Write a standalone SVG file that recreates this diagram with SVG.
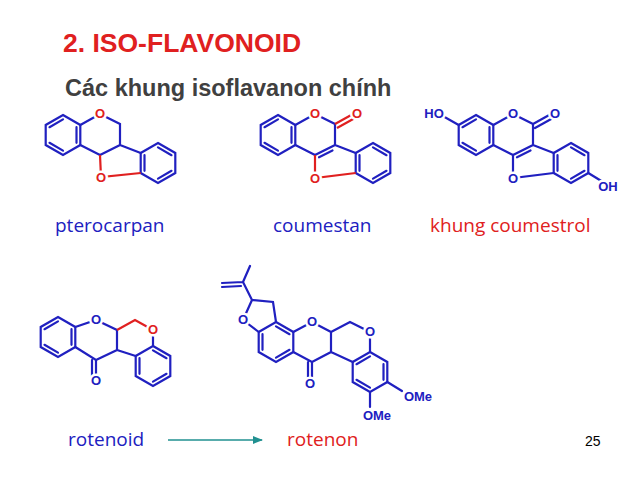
<svg xmlns="http://www.w3.org/2000/svg" width="638" height="478" viewBox="0 0 638 478">
<style>
.b{stroke:#2020c0;stroke-width:2.2;fill:none;stroke-linecap:round}
.r{stroke:#e02020;stroke-width:2.2;fill:none}
.at{font-family:"Liberation Sans",Arial,sans-serif;font-weight:bold;font-size:13px;stroke:#fff;stroke-width:5;paint-order:stroke;text-anchor:middle}
.ro{fill:#e02020}.bo{fill:#2020c0}
.lb{font-family:"Open Sans",sans-serif;font-size:19px}
</style>
<defs>
<g id="bz"><polygon class="b" points="0,-20 17.3,-10 17.3,10 0,20 -17.3,10 -17.3,-10"/><path class="b" d="M-13.5,-7.8L0,-15.6M13.5,-7.8L13.5,7.8M0,15.6L-13.5,7.8"/></g>
<g id="bz2"><polygon class="b" points="0,-20 17.3,-10 17.3,10 0,20 -17.3,10 -17.3,-10"/><path class="b" d="M0,-15.6L13.5,-7.8M13.5,7.8L0,15.6M-13.5,7.8L-13.5,-7.8"/></g>
<marker id="ar" markerWidth="10" markerHeight="8" refX="9" refY="4" orient="auto" markerUnits="userSpaceOnUse"><path d="M0,0L10,4L0,8z" fill="#209090"/></marker>
</defs>
<text x="63" y="52" font-family="Liberation Sans,Arial,sans-serif" font-weight="bold" font-size="26.5" fill="#e02020">2. ISO-FLAVONOID</text>
<text x="65" y="96" font-family="Liberation Sans,Arial,sans-serif" font-weight="bold" font-size="23.5" fill="#404040">Các khung isoflavanon chính</text>
<g id="pterocarpan">
<use href="#bz" x="63" y="135"/><use href="#bz2" x="158" y="163"/>
<path class="b" d="M80.3,125L100,114L120,124L120,145L100,155L80.3,145M120,145L140.7,153"/>
<path class="r" d="M100,155L101,177L140.7,173"/>
<text class="at ro" x="100" y="118">O</text><text class="at ro" x="101" y="182">O</text>
</g>
<g id="coumestan" transform="translate(215,0)">
<use href="#bz" x="63" y="135"/><use href="#bz2" x="158" y="163"/>
<path class="b" d="M80.3,125L100,114L120,124L120,145L100,155L80.3,145M120,145L140.7,153M117.5,150.5L104,157.3"/>
<path class="r" d="M120,124L138,114M122,128L140,118M100,155L100,178L140.7,173"/>
<text class="at ro" x="100" y="118">O</text><text class="at ro" x="142" y="118">O</text><text class="at ro" x="100" y="183">O</text>
</g>
<g id="coumestrol" transform="translate(413,0)">
<use href="#bz" x="63" y="135"/><use href="#bz2" x="158" y="163"/>
<path class="b" d="M80.3,125L100,114L120,124L120,145L100,155L80.3,145M120,145L140.7,153M117.5,150.5L104,157.3M120,124L138,114M122,128L140,118M100,155L100,178L140.7,173M45.7,125L28,115M175.3,173L190,182"/>
<text class="at bo" x="100" y="118">O</text><text class="at bo" x="142" y="118">O</text><text class="at bo" x="100" y="183">O</text>
<text class="at bo" x="21" y="118">HO</text><text class="at bo" x="195" y="191">OH</text>
</g>
<g id="rotenoid">
<use href="#bz" x="58" y="337"/><use href="#bz2" x="153" y="366"/>
<path class="b" d="M75.3,327L96,320L117,330L117,350L96,360L75.3,347M96,360L96,378M92,360L92,378M117,350L135.7,356M153,330L153,346"/>
<path class="r" d="M117,330L135,320L153,330"/>
<text class="at bo" x="96" y="324">O</text><text class="at ro" x="153" y="334">O</text><text class="at bo" x="96" y="385">O</text>
</g>
<g id="rotenon">
<use href="#bz2" x="276" y="342"/><use href="#bz" x="370" y="372"/>
<path class="b" d="M258.7,332L243,320L252,300L273,302L276,322M252,300L243,282L250,266M243,282L222,283M241,286L222,287M293.3,332L312,322L331,332L331,352L312,362L293.3,352M312,362L312,380M308,362L308,380M331,332L350,322L370,332L370,352M331,352L352.7,362M387.3,382L402,391M370,392L370,407"/>
<text class="at bo" x="243" y="324">O</text><text class="at bo" x="312" y="326">O</text><text class="at bo" x="370" y="336">O</text><text class="at bo" x="310" y="388">O</text>
<text class="at bo" x="418" y="401">OMe</text><text class="at bo" x="377" y="420">OMe</text>
</g>
<text class="lb" x="55" y="232" fill="#2020c0">pterocarpan</text>
<text class="lb" x="273" y="232" fill="#2020c0">coumestan</text>
<text class="lb" x="430" y="232" fill="#e02020">khung coumestrol</text>
<text class="lb" x="68" y="446" fill="#2020c0">rotenoid</text>
<text class="lb" x="287" y="446" fill="#e02020">rotenon</text>
<g id="connectors"><path d="M168,440L262,440" stroke="#209090" stroke-width="1.5" marker-end="url(#ar)"/></g>
<text x="585" y="446" font-family="Liberation Sans,Arial,sans-serif" font-size="14">25</text>
</svg>
